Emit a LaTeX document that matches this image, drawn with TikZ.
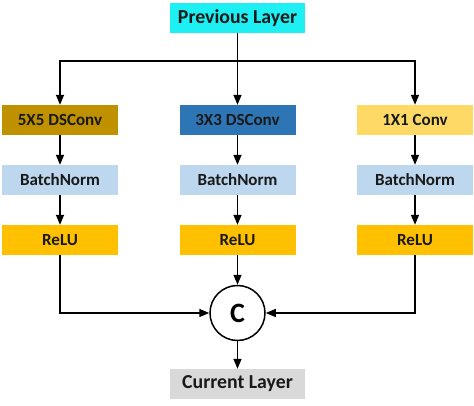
\documentclass[tikz,border=0pt]{standalone}
\usepackage{fontspec}
\setmainfont{Carlito}
\usetikzlibrary{arrows.meta}
\definecolor{cprev}{HTML}{1EEFF2}
\definecolor{cfive}{HTML}{BF9000}
\definecolor{cthree}{HTML}{2E75B6}
\definecolor{cone}{HTML}{FFD966}
\definecolor{cbn}{HTML}{BDD7EE}
\definecolor{crelu}{HTML}{FFC000}
\definecolor{ccur}{HTML}{D9D9D9}
\begin{document}
\begin{tikzpicture}[x=1pt,y=1pt,
  blk/.style={rectangle, minimum width=116pt, minimum height=30pt, inner sep=0pt,
     font=\fontsize{17}{17}\selectfont\bfseries, text=black!90},
  wide/.style={blk, minimum width=135pt, font=\fontsize{19.8}{19.8}\selectfont\bfseries},
  conn/.style={line width=1.4pt, -{Triangle[length=10pt,width=8pt]}},
  plain/.style={line width=1.4pt}]
\useasboundingbox (0,0) rectangle (474,405);
\node[wide, fill=cprev] (prev) at (237.5,387) {Previous Layer};
\node[blk, fill=cfive] (l1) at (60,285) {5X5 DSConv};
\node[blk, fill=cthree] (m1) at (237.5,285) {3X3 DSConv};
\node[blk, fill=cone] (r1) at (415,285) {1X1 Conv};
\node[blk, fill=cbn] (l2) at (60,225) {BatchNorm};
\node[blk, fill=cbn] (m2) at (237.5,225) {BatchNorm};
\node[blk, fill=cbn] (r2) at (415,225) {BatchNorm};
\node[blk, fill=crelu] (l3) at (60,165) {ReLU};
\node[blk, fill=crelu] (m3) at (237.5,165) {ReLU};
\node[blk, fill=crelu] (r3) at (415,165) {ReLU};
\node[circle, draw, line width=1.5pt, minimum size=55pt, inner sep=0pt,
  font=\fontsize{28}{28}\selectfont\bfseries] (c) at (237.5,92) {C};
\node[wide, fill=ccur] (cur) at (237.5,21) {Current Layer};
\coordinate (split) at (237.5,344);
\draw[conn] (prev) -- (m1);
\draw[conn] (split) -| (l1);
\draw[conn] (split) -| (r1);
\draw[conn] (l1) -- (l2);
\draw[conn] (m1) -- (m2);
\draw[conn] (r1) -- (r2);
\draw[conn] (l2) -- (l3);
\draw[conn] (m2) -- (m3);
\draw[conn] (r2) -- (r3);
\draw[conn] (m3) -- (c);
\draw[conn] (l3.south) |- (c.west);
\draw[conn] (r3.south) |- (c.east);
\draw[conn] (c) -- (cur);
\end{tikzpicture}
\end{document}
